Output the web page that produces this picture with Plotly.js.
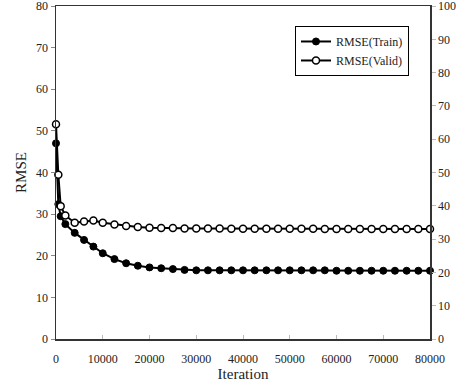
<!DOCTYPE html>
<html>
<head>
<meta charset="utf-8">
<script src="https://cdn.plot.ly/plotly-3.0.1.min.js"></script>
<style>html,body{margin:0;padding:0;background:#fff;}#chart{width:474px;height:392px;}</style>
</head>
<body>
<div id="chart"></div>
<script>
var iterations = [0, 500, 1000, 2000, 4000, 6000, 8000, 10000, 12500, 15000, 17500,
  20000, 22500, 25000, 27500, 30000, 32500, 35000, 37500, 40000, 42500, 45000, 47500,
  50000, 52500, 55000, 57500, 60000, 62500, 65000, 67500, 70000, 72500, 75000, 77500, 80000];
var rmseTrain = [47.0, 32.4, 29.5, 27.6, 25.5, 23.8, 22.2, 20.6, 19.2, 18.2, 17.6,
  17.2, 17.0, 16.8, 16.6, 16.5, 16.5, 16.5, 16.5, 16.5, 16.5, 16.5, 16.5,
  16.5, 16.5, 16.5, 16.5, 16.4, 16.4, 16.4, 16.4, 16.4, 16.4, 16.4, 16.4, 16.4];
var rmseValid = [64.5, 49.3, 39.9, 37.1, 34.9, 35.3, 35.6, 34.9, 34.4, 33.9, 33.6,
  33.4, 33.3, 33.3, 33.2, 33.2, 33.2, 33.2, 33.1, 33.1, 33.1, 33.1, 33.1,
  33.1, 33.1, 33.1, 33.0, 33.0, 33.0, 33.0, 33.0, 33.0, 33.0, 33.0, 33.0, 33.0];
var xTicks = [0, 10000, 20000, 30000, 40000, 50000, 60000, 70000, 80000];
var yLeftTicks = [0, 10, 20, 30, 40, 50, 60, 70, 80];
var yRightTicks = [0, 10, 20, 30, 40, 50, 60, 70, 80, 90, 100];

var fam = '"Liberation Serif", "Times New Roman", serif';
var tf = {family: fam, size: 12, color: '#222'};

var traces = [
  {x: iterations, y: rmseTrain, name: 'RMSE(Train)', type: 'scatter', mode: 'lines+markers',
   yaxis: 'y', cliponaxis: false,
   line: {color: '#000', width: 2},
   marker: {color: '#000', size: 7, line: {color: '#000', width: 1}}},
  {x: iterations, y: rmseValid, name: 'RMSE(Valid)', type: 'scatter', mode: 'lines+markers',
   yaxis: 'y2', cliponaxis: false,
   line: {color: '#000', width: 2},
   marker: {color: '#fff', size: 7, line: {color: '#000', width: 1.5}}}
];

var layout = {
  width: 474, height: 392,
  margin: {l: 56, r: 44, t: 6, b: 53, pad: 0},
  paper_bgcolor: '#fff', plot_bgcolor: '#fff',
  font: tf,
  showlegend: true,
  legend: {x: 0.639, y: 0.94, xanchor: 'left', yanchor: 'top',
    bordercolor: '#000', borderwidth: 1, bgcolor: '#fff', itemwidth: 30,
    font: tf, tracegroupgap: 0},
  xaxis: {range: [0, 80000], tickvals: xTicks, ticktext: xTicks.map(String),
    showgrid: false, zeroline: false, showline: true, linecolor: '#333', linewidth: 1.5,
    mirror: true, ticks: 'inside', ticklen: 4, tickcolor: '#bbb', ticklabelstandoff: 8,
    title: {text: 'Iteration', font: {family: fam, size: 15, color: '#222'}, standoff: 2},
    tickfont: tf},
  yaxis: {range: [0, 80], tickvals: yLeftTicks, showgrid: false, zeroline: false,
    showline: true, linecolor: '#333', linewidth: 1.5, ticks: 'outside', ticklen: 4, tickcolor: '#888',
    ticklabeloverflow: 'allow',
    title: {text: 'RMSE', font: {family: fam, size: 15, color: '#222'}, standoff: 6},
    tickfont: tf},
  yaxis2: {range: [0, 100], tickvals: yRightTicks, overlaying: 'y', side: 'right', showgrid: false, zeroline: false,
    showline: true, linecolor: '#333', linewidth: 1.5, ticks: 'outside', ticklen: 4, tickcolor: '#bbb',
    ticklabeloverflow: 'allow',
    tickfont: tf}
};

Plotly.newPlot('chart', traces, layout, {displayModeBar: false, staticPlot: true});
</script>
</body>
</html>
